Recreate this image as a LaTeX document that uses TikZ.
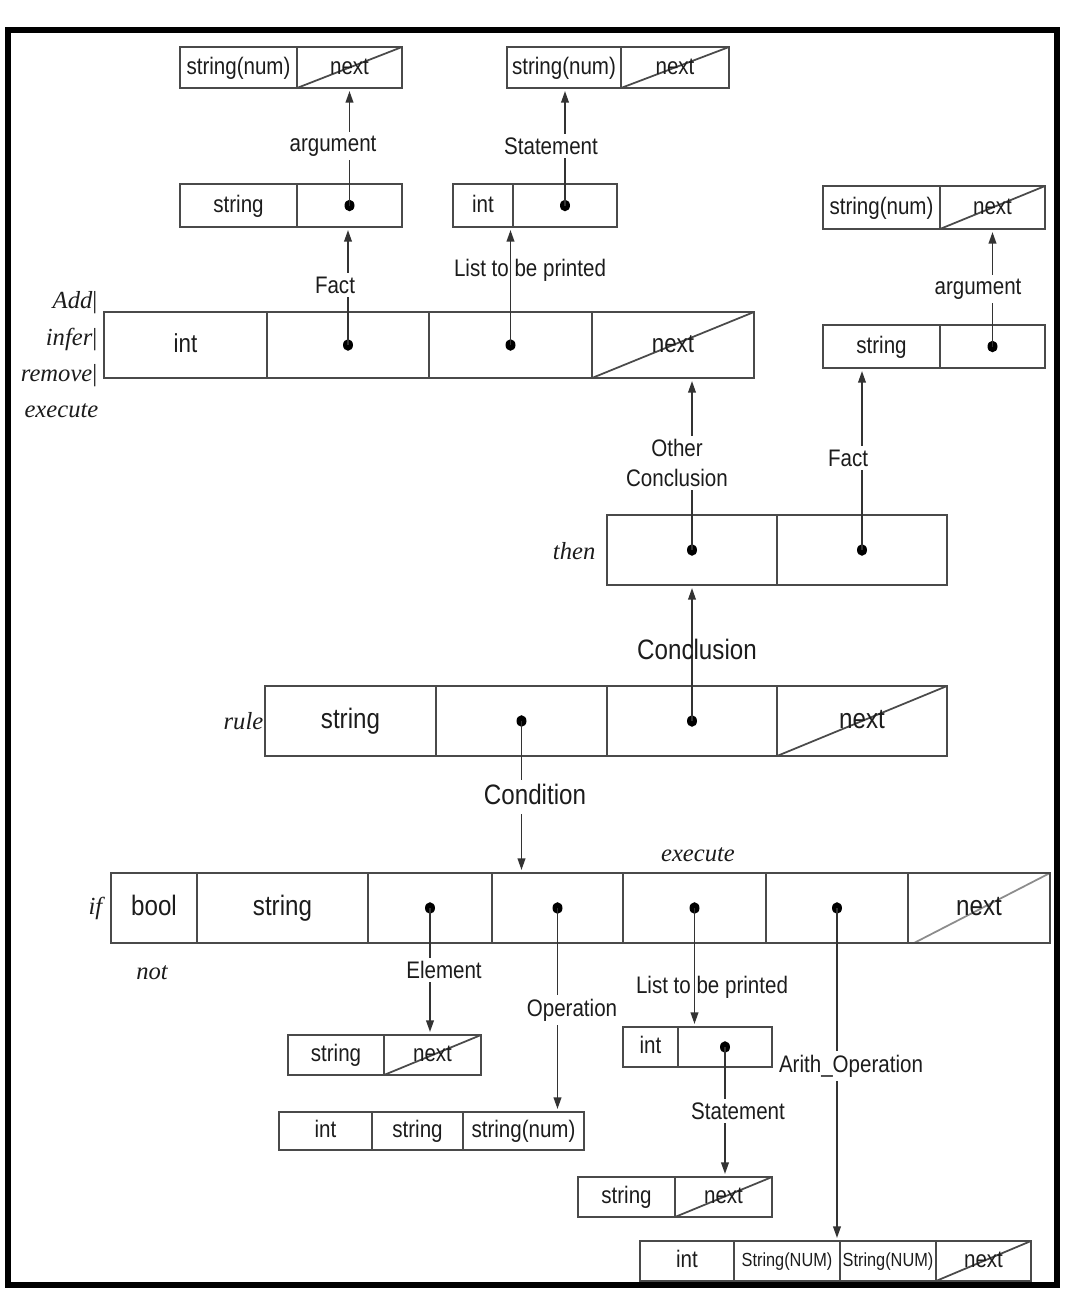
\documentclass[tikz,border=0pt]{standalone}
\usepackage{fontspec}
\setmainfont{Liberation Sans}[FakeStretch=0.86]
\newfontfamily\tmsfont{Liberation Serif}
\usepackage{tikz}
\usetikzlibrary{arrows.meta, positioning}
\definecolor{boxGray}{HTML}{4A4A4A}
\definecolor{lineGray}{HTML}{333333}
\definecolor{txtGray}{HTML}{1C1C1C}
\tikzset{
    recCell/.style={draw=boxGray, line width=0.55pt, inner sep=0pt, text=txtGray},
    nextCell/.style={path picture={\draw[boxGray, line width=0.5pt] (path picture bounding box.south west) -- (path picture bounding box.north east);}},
    nextLight/.style={path picture={\draw[black!45, line width=0.5pt] ([xshift=0.6mm]path picture bounding box.south west) -- (path picture bounding box.north east);}},
    linkArrow/.style={-{Triangle[length=3.3pt, width=2.2pt]}, lineGray, line width=0.45pt, shorten >=0.6pt},
    edgeLbl/.style={fill=white, inner sep=1pt, text=txtGray, font=\fontsize{6.8}{8.5}\selectfont},
    txtTiny/.style={font=\fontsize{5.4}{6.5}\selectfont, text height=4.1pt, text depth=1.1pt},
    txtSmall/.style={font=\fontsize{6.8}{8.5}\selectfont, text height=5.1pt, text depth=1.4pt},
    txtMid/.style={font=\fontsize{7.4}{9}\selectfont, text height=5.6pt, text depth=1.5pt},
    txtLarge/.style={font=\fontsize{8}{9.5}\selectfont, text height=6pt, text depth=1.6pt},
    txtItal/.style={text=txtGray, inner sep=0pt, font=\tmsfont\itshape\fontsize{7}{8.5}\selectfont}
}
% one cell of a record: [style]{name}{left}{right}{top}{bottom}{text}
\newcommand{\cellAt}[7][]{%
    \node[recCell, #1, minimum width={(#4-#3)*0.1mm}, minimum height={(#6-#5)*0.1mm}] (#2) at ({(#3+#4)/2},{(#5+#6)/2}) {#7};}

\begin{document}
\begin{tikzpicture}[x=0.1mm, y=-0.1mm]
    \useasboundingbox (0,0) rectangle (1084,1311);
    \draw[line width=1.5pt, black] (8,30) rectangle (1057,1285);

    % --- Fact / argument records (top left) ---
    \cellAt[txtSmall]{aOneNum}{180}{297}{47}{88}{string(num)}
    \cellAt[nextCell, txtSmall]{aOneNext}{297}{402}{47}{88}{next}
    \cellAt[txtSmall]{aTwoStr}{180}{297}{184}{227}{string}
    \cellAt{aTwoPtr}{297}{402}{184}{227}{}

    % --- List to be printed / Statement records ---
    \cellAt[txtSmall]{bOneNum}{507}{621}{47}{88}{string(num)}
    \cellAt[nextCell, txtSmall]{bOneNext}{621}{729}{47}{88}{next}
    \cellAt[txtSmall]{bTwoInt}{453}{513}{184}{227}{int}
    \cellAt{bTwoPtr}{513}{617}{184}{227}{}

    % --- Add|infer|remove|execute row ---
    \cellAt[txtMid]{mInt}{104}{267}{312}{378}{int}
    \cellAt{mFact}{267}{429}{312}{378}{}
    \cellAt{mList}{429}{592}{312}{378}{}
    \cellAt[nextCell, txtMid]{mNext}{592}{754}{312}{378}{next}
    \node[txtItal, anchor=east] (opAdd) at (98,303) {Add{\upshape|}};
    \node[txtItal, anchor=east] (opInfer) at (98,339) {infer{\upshape|}};
    \node[txtItal, anchor=east] (opRemove) at (98,376) {remove{\upshape|}};
    \node[txtItal, anchor=east] (opExec) at (99,411) {execute};

    % --- Fact / argument records (right) ---
    \cellAt[txtSmall]{cOneNum}{823}{940}{186}{229}{string(num)}
    \cellAt[nextCell, txtSmall]{cOneNext}{940}{1045}{186}{229}{next}
    \cellAt[txtSmall]{cTwoStr}{823}{940}{325}{368}{string}
    \cellAt{cTwoPtr}{940}{1045}{325}{368}{}

    % --- then ---
    \cellAt{tOther}{607}{777}{515}{585}{}
    \cellAt{tFact}{777}{947}{515}{585}{}
    \node[txtItal, anchor=east] (thenLbl) at (596,551) {then};

    % --- rule ---
    \cellAt[txtLarge]{rStr}{265}{436}{686}{756}{string}
    \cellAt{rCond}{436}{607}{686}{756}{}
    \cellAt{rConc}{607}{777}{686}{756}{}
    \cellAt[nextCell, txtLarge]{rNext}{777}{947}{686}{756}{next}
    \node[txtItal, anchor=east] (ruleLbl) at (264,721) {rule};

    % --- if ---
    \cellAt[txtLarge]{iBool}{111}{197}{873}{943}{bool}
    \cellAt[txtLarge]{iStr}{197}{368}{873}{943}{string}
    \cellAt{iElem}{368}{492}{873}{943}{}
    \cellAt{iOper}{492}{623}{873}{943}{}
    \cellAt{iExec}{623}{766}{873}{943}{}
    \cellAt{iArith}{766}{908}{873}{943}{}
    \cellAt[nextLight, txtLarge]{iNext}{908}{1050}{873}{943}{next}
    \node[txtItal, anchor=east] (ifLbl) at (103,908) {if};
    \node[txtItal] (notLbl) at (152,973) {not};
    \node[txtItal] (execLbl) at (698,855) {execute};

    % --- records below the if row ---
    \cellAt[txtSmall]{eStr}{288}{384}{1035}{1075}{string}
    \cellAt[nextCell, txtSmall]{eNext}{384}{481}{1035}{1075}{next}
    \cellAt[txtSmall]{oInt}{279}{372}{1112}{1150}{int}
    \cellAt[txtSmall]{oStr}{372}{463}{1112}{1150}{string}
    \cellAt[txtSmall]{oNum}{463}{584}{1112}{1150}{string(num)}
    \cellAt[txtSmall]{pInt}{623}{678}{1027}{1067}{int}
    \cellAt{pPtr}{678}{772}{1027}{1067}{}
    \cellAt[txtSmall]{sStr}{578}{675}{1177}{1217}{string}
    \cellAt[nextCell, txtSmall]{sNext}{675}{772}{1177}{1217}{next}
    \cellAt[txtSmall]{arInt}{640}{734}{1241}{1281}{int}
    \cellAt[txtTiny]{arNumA}{734}{840}{1241}{1281}{String(NUM)}
    \cellAt[txtTiny]{arNumB}{840}{936}{1241}{1281}{String(NUM)}
    \cellAt[nextCell, txtSmall]{arNext}{936}{1031}{1241}{1281}{next}

    % pointer dots
    \foreach \c in {aTwoPtr, bTwoPtr, mFact, mList, cTwoPtr, tOther, tFact,
                    rCond, rConc, iElem, iOper, iExec, iArith, pPtr}
        \fill[black] (\c.center) ellipse (0.5mm and 0.58mm);

    % links
    \draw[linkArrow] (aTwoPtr.center) -- (aTwoPtr.center |- aOneNext.south);
    \draw[linkArrow] (mFact.center) -- (mFact.center |- aTwoPtr.south);
    \draw[linkArrow] (bTwoPtr.center) -- (bTwoPtr.center |- bOneNum.south);
    \draw[linkArrow] (mList.center) -- (mList.center |- bTwoInt.south);
    \draw[linkArrow] (cTwoPtr.center) -- (cTwoPtr.center |- cOneNext.south);
    \draw[linkArrow] (tFact.center) -- (tFact.center |- cTwoStr.south);
    \draw[linkArrow] (tOther.center) -- (tOther.center |- mNext.south);
    \draw[linkArrow] (rConc.center) -- (rConc.center |- tOther.south);
    \draw[linkArrow] (rCond.center) -- (rCond.center |- iOper.north);
    \draw[linkArrow] (iElem.center) -- (iElem.center |- eNext.north);
    \draw[linkArrow] (iOper.center) -- (iOper.center |- oNum.north);
    \draw[linkArrow] (iExec.center) -- (iExec.center |- pPtr.north);
    \draw[linkArrow] (pPtr.center) -- (pPtr.center |- sNext.north);
    \draw[linkArrow] (iArith.center) -- (iArith.center |- arNumA.north);

    % link labels
    \node[edgeLbl] (argA) at (333,146) {argument};
    \node[edgeLbl] (factA) at (335,285) {Fact};
    \node[edgeLbl] (stmtB) at (551,146) {Statement};
    \node[edgeLbl, fill=none] (listB) at (530,270) {List to be printed};
    \node[edgeLbl] (argC) at (978,289) {argument};
    \node[edgeLbl] (factC) at (848,458) {Fact};
    \node[edgeLbl, align=center] (otherConc) at (677,463) {Other\\Conclusion};
    \node[edgeLbl, fill=none, txtLarge] (concLbl) at (697,652) {Conclusion};
    \node[edgeLbl, txtLarge] (condLbl) at (535,797) {Condition};
    \node[edgeLbl] (elemLbl) at (444,970) {Element};
    \node[edgeLbl] (operLbl) at (572,1010) {Operation};
    \node[edgeLbl, fill=none] (listP) at (712,987) {List to be printed};
    \node[edgeLbl] (stmtS) at (738,1111) {Statement};
    \node[edgeLbl] (arithLbl) at (851,1066) {Arith\_Operation};
\end{tikzpicture}
\end{document}
